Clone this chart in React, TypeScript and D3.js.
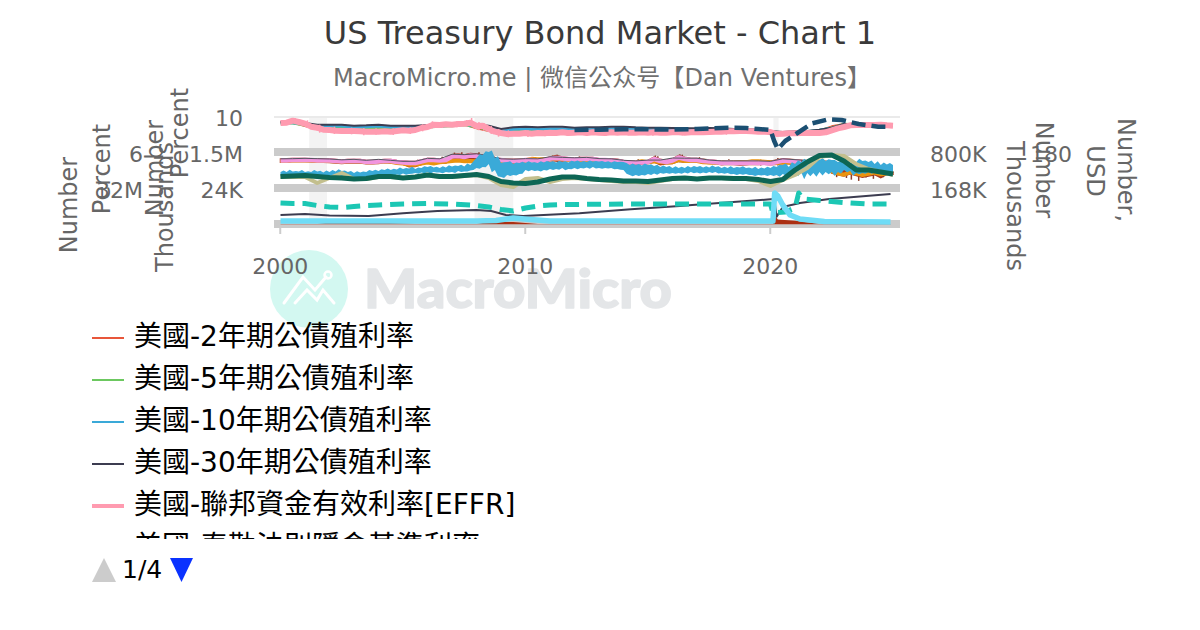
import React, { useRef, useEffect } from "react";
import * as d3 from "d3";

// shared time grids, decimal years
const quarterYears = d3.range(101).map((i) => 2000 + i / 4);
const halfYears = d3.range(51).map((i) => 2000 + i / 2);
const eighthYears = d3.range(201).map((i) => 2000 + i / 8);

// top panel, percent
const effr = [
  8.5, 8.6, 9.2, 8.8, 8.3, 7.4, 7.1, 6.5, 6.4, 6.2, 6.1, 6.1, 6.1, 6.0, 5.9, 5.9, 5.9, 6.0, 5.9, 6.1,
  6.3, 6.2, 6.4, 7.0, 7.3, 8.0, 7.9, 8.1, 8.0, 8.2, 8.3, 8.6, 7.6, 7.7, 6.7, 5.9, 5.5, 5.2, 5.3, 5.3,
  5.5, 5.3, 5.5, 5.4, 5.6, 5.5, 5.7, 5.5, 5.6, 5.7, 5.5, 5.7, 5.6, 5.5, 5.7, 5.6, 5.7, 5.6, 5.6, 5.7,
  5.6, 5.7, 5.6, 5.6, 5.7, 5.7, 5.6, 5.7, 5.8, 5.7, 5.8, 5.9, 5.9, 6.0, 6.0, 6.1, 6.1, 6.0, 5.9, 5.9,
  5.8, 5.2, 5.3, 5.4, 5.4, 5.5, 5.5, 5.5, 5.5, 5.7, 6.3, 6.9, 7.3, 7.8, 7.9, 7.9, 7.9, 7.9, 8.0, 7.8, 7.7,
];
const effrSpikeYears = [
  2000.4, 2000.6, 2001.1, 2001.6, 2002.2, 2002.9, 2003.4, 2003.9, 2004.6, 2005.3, 2005.8, 2006.2, 2006.6, 2007.2, 2007.6, 2007.8,
  2008.1, 2008.3, 2008.6, 2008.9, 2009.3, 2010.1, 2010.8, 2011.7, 2012.5, 2013.3, 2014.2, 2015.2, 2016.4, 2017.3, 2018.2,
];
const effrSpikeHigh = [
  9.6, 10, 9.3, 8.0, 7.4, 7.1, 7.0, 6.9, 6.9, 7.2, 8.1, 9.0, 8.8, 9.0, 9.4, 10,
  8.8, 8.5, 7.6, 6.7, 6.3, 6.3, 6.4, 6.3, 6.4, 6.4, 6.5, 6.4, 6.4, 6.4, 6.8,
];
const effrSpikeLow = [
  8.2, 8.2, 7.4, 5.6, 5.2, 5.1, 4.8, 5.0, 4.9, 5.2, 6.0, 6.9, 7.0, 7.2, 7.4, 7.6,
  6.3, 6.2, 5.2, 4.4, 4.2, 4.3, 4.5, 4.6, 4.6, 4.7, 4.8, 4.7, 4.8, 4.9, 5.0,
];
const us30y = [
  8.8, 8.8, 8.5, 8.0, 8.0, 8.0, 7.7, 7.8, 8.0, 7.7, 7.7, 7.7, 7.9, 8.0, 8.0, 8.3, 8.0, 7.7, 6.7, 7.2, 7.4, 7.2, 7.4, 7.4, 7.1,
  7.2, 7.2, 7.4, 7.4, 7.2, 7.1, 7.1, 7.0, 6.9, 6.9, 7.0, 6.9, 6.7, 6.7, 6.5, 6.1, 5.8, 6.0, 6.1, 6.5, 7.1, 8.2, 8.2, 8.0, 8.0, 7.9,
];
const us10y = [
  8.6, 8.6, 8.2, 7.5, 7.6, 7.6, 7.3, 7.4, 7.6, 7.3, 7.3, 7.2, 7.5, 7.6, 7.8, 8.1, 7.7, 7.0, 6.0, 6.6, 6.8, 6.6, 6.8, 6.8, 6.5,
  6.5, 6.6, 6.8, 6.8, 6.6, 6.5, 6.5, 6.5, 6.4, 6.5, 6.6, 6.5, 6.3, 6.3, 6.1, 5.6, 5.6, 5.7, 5.9, 6.3, 6.9, 8.0, 8.0, 7.9, 7.9, 7.8,
];
const us5y = [
  8.5, 8.5, 7.9, 7.2, 7.1, 7.0, 6.9, 7.1, 7.2, 7.0, 7.0, 7.0, 7.3, 7.5, 7.7, 8.0, 7.4, 6.4, 5.8, 6.4, 6.4, 6.4, 6.4, 6.4, 6.1,
  6.0, 6.1, 6.3, 6.5, 6.4, 6.3, 6.2, 6.2, 6.2, 6.3, 6.5, 6.4, 6.2, 6.2, 6.0, 5.5, 5.5, 5.6, 5.8, 6.3, 7.0, 8.1, 8.0, 7.8, 7.8, 7.7,
];
const us2y = [
  8.6, 8.6, 7.6, 6.6, 6.4, 6.3, 6.2, 6.4, 6.6, 6.5, 6.6, 6.8, 7.3, 7.7, 7.9, 8.0, 6.9, 6.1, 5.7, 5.8, 5.8, 5.7, 5.7, 5.7, 5.6,
  5.7, 5.7, 5.8, 6.0, 6.1, 6.2, 6.1, 6.1, 6.3, 6.4, 6.5, 6.5, 6.2, 6.1, 5.9, 5.3, 5.2, 5.3, 5.4, 6.2, 7.5, 8.2, 8.1, 8.0, 7.9, 7.7,
];
const taylorYears = [
  2012, 2013, 2014, 2015, 2016, 2017, 2018, 2018.5, 2019, 2019.5, 2020, 2020.15, 2020.3, 2020.6, 2021.1, 2021.7, 2022.35, 2022.9, 2023.6, 2024.4, 2024.8,
];
const taylorRule = [6.4, 6.5, 6.6, 6.6, 6.5, 6.7, 7.0, 7.1, 7.0, 6.7, 6.4, 3.1, 0.7, 3.1, 5.5, 8.4, 9.6, 9.4, 8.2, 7.4, 7.4];

// middle panel, thousands
const volHigh = [
  696, 700, 708, 708, 708, 700, 700, 700, 696, 684, 672, 684, 684, 684, 660, 660, 672, 684, 684, 660,
  648, 636, 636, 672, 708, 708, 696, 708, 800, 816, 790, 830, 816, 790, 770, 730, 700, 690, 690, 690,
  700, 710, 690, 700, 740, 780, 745, 725, 715, 730, 735, 735, 705, 700, 700, 690, 660, 650, 650, 650,
  660, 740, 690, 660, 700, 780, 740, 710, 710, 690, 670, 660, 640, 650, 640, 650, 640, 650, 640, 640,
  640, 670, 700, 690, 680, 665, 650, 660, 650, 640, 620, 540, 520, 480, 450, 430, 400, 420, 410, 400, 380,
];
const volLow = [
  620, 620, 640, 636, 636, 628, 620, 620, 610, 600, 590, 600, 600, 600, 580, 585, 590, 610, 600, 590,
  570, 510, 515, 560, 630, 590, 600, 600, 690, 680, 660, 650, 620, 610, 620, 620, 620, 610, 600, 620,
  630, 640, 600, 610, 660, 650, 650, 660, 640, 660, 650, 650, 630, 640, 620, 600, 570, 560, 560, 575,
  590, 620, 560, 580, 590, 640, 620, 620, 630, 600, 590, 585, 560, 570, 565, 550, 560, 570, 565, 570,
  560, 570, 590, 580, 560, 540, 520, 520, 510, 480, 360, 320, 290, 340, 300, 260, 290, 320, 250, 330, 330,
];
const volSpikeYears = [
  2005.6, 2006.6, 2006.9, 2007.1, 2007.4, 2007.7, 2008.1, 2008.4, 2010.4, 2011.1, 2011.3, 2012.2, 2014.6, 2015.3, 2015.4, 2016.3,
  2016.4, 2017.1, 2018.3, 2019.6, 2020.3, 2021.4, 2021.9, 2022.2, 2022.7, 2023.1, 2023.3, 2023.6, 2023.9, 2024.2, 2024.6,
];
const volSpikeHigh = [
  680, 750, 760, 850, 860, 830, 860, 800, 740, 780, 800, 760, 690, 780, 760, 810,
  800, 740, 690, 680, 720, 690, 670, 620, 500, 490, 560, 500, 460, 450, 430,
];
const volSpikeLow = [
  600, 640, 690, 700, 700, 640, 660, 620, 590, 640, 630, 630, 540, 600, 620, 620,
  620, 600, 550, 540, 540, 500, 480, 400, 260, 240, 200, 170, 250, 220, 260,
];
const orangeSeries = [
  650, 650, 660, 660, 660, 660, 650, 650, 650, 640, 630, 640, 640, 640, 620, 620, 630, 640, 630, 600,
  590, 560, 560, 590, 610, 590, 620, 630, 650, 660, 640, 650, 640, 660, 690, 650, 640, 650, 640, 650,
  670, 700, 690, 690, 700, 700, 695, 680, 670, 670, 680, 670, 650, 660, 650, 640, 600, 600, 620, 640,
  620, 640, 620, 610, 620, 670, 650, 650, 650, 620, 610, 610, 610, 620, 610, 620, 620, 640, 640, 630,
  620, 600, 610, 610, 600, 570, 560, 560, 540, 500, 400, 350, 320, 380, 350, 310, 340, 370, 330, 350, 350,
];
const magentaSeries = [
  660, 660, 672, 672, 672, 672, 660, 660, 660, 648, 636, 648, 648, 648, 624, 624, 636, 648, 648, 624,
  612, 600, 600, 636, 672, 672, 660, 672, 756, 768, 744, 780, 768, 744, 720, 672, 672, 648, 648, 648,
  672, 672, 648, 660, 708, 720, 708, 696, 684, 696, 696, 696, 672, 672, 660, 648, 624, 612, 612, 612,
  624, 696, 648, 624, 660, 732, 696, 672, 672, 648, 636, 624, 600, 612, 600, 600, 600, 612, 600, 600,
  588, 624, 660, 648, 636, 624,
];
const darkSeries = [
  700, 704, 712, 704, 696, 676, 688, 664, 688, 664, 640, 640, 712, 700, 810, 800, 820, 770, 700, 690, 705, 700, 750, 735, 725,
  735, 705, 700, 665, 650, 670, 670, 720, 715, 715, 670, 650, 650, 650, 650, 640, 700, 680, 655, 640, 620, 520, 450, 420, 410, 390,
];
const blueHigh = [
  384, 384, 396, 396, 384, 384, 396, 372, 384, 396, 408, 384, 360, 372, 384, 408, 408, 432, 432, 444,
  456, 468, 456, 480, 504, 492, 480, 492, 516, 528, 516, 552, 720, 792, 864, 720, 600, 624, 576, 600,
  600, 612, 600, 612, 624, 612, 624, 612, 636, 624, 624, 636, 636, 624, 612, 624, 624, 552, 552, 540,
  552, 528, 504, 504, 480, 480, 480, 492, 504, 492, 492, 504, 480, 480, 480, 492, 480, 468, 456, 468,
  480, 504, 552, 504, 576, 624, 648, 660, 672, 648, 672, 624, 600, 600, 624, 648, 624, 576, 552, 564, 552,
];
const blueLow = [
  288, 276, 288, 288, 288, 288, 288, 264, 264, 276, 276, 264, 240, 240, 264, 288, 300, 312, 324, 324,
  348, 336, 360, 372, 384, 384, 372, 384, 384, 408, 396, 420, 480, 504, 576, 432, 264, 312, 312, 336,
  432, 432, 420, 432, 456, 456, 480, 456, 480, 480, 492, 504, 480, 480, 480, 456, 432, 312, 312, 312,
  336, 348, 360, 360, 360, 360, 372, 384, 372, 372, 384, 384, 360, 360, 336, 336, 336, 312, 312, 312,
  312, 312, 336, 336, 384, 384, 360, 360, 384, 384, 384, 384, 432, 408, 360, 360, 384, 384, 384, 396, 384,
];
// readings between the quarter points, the edges of the daily noise
const blueMidHigh = [
  420, 440, 410, 430, 400, 430, 415, 420, 430, 450, 420, 410, 400, 395, 430, 440, 450, 470, 460, 490,
  480, 510, 490, 520, 530, 510, 520, 545, 540, 560, 590, 640, 810, 880, 900, 760, 620, 640, 610, 630,
  640, 620, 640, 650, 640, 650, 640, 655, 660, 650, 660, 650, 650, 640, 640, 630, 600, 590, 575, 590,
  570, 560, 540, 530, 520, 510, 530, 530, 530, 525, 540, 520, 510, 520, 505, 520, 495, 510, 490, 510,
  530, 560, 590, 620, 660, 700, 690, 710, 720, 690, 670, 650, 650, 630, 700, 660, 660, 640, 610, 600,
];
const blueMidLow = [
  260, 270, 255, 270, 265, 270, 250, 240, 250, 250, 240, 240, 220, 240, 270, 285, 280, 300, 300, 310,
  320, 345, 340, 355, 350, 375, 355, 370, 360, 385, 395, 430, 460, 500, 380, 280, 240, 290, 300, 340,
  400, 410, 395, 420, 430, 440, 425, 450, 450, 470, 460, 470, 460, 470, 450, 440, 340, 280, 290, 300,
  310, 320, 340, 340, 340, 345, 350, 355, 350, 355, 360, 350, 340, 330, 315, 320, 310, 290, 300, 290,
  290, 270, 300, 330, 280, 210, 280, 270, 300, 330, 290, 350, 380, 300, 330, 340, 340, 350, 330, 350,
];
const khakiSeries = [
  264, 264, 264, 120, 240, 360, 216, 216, 264, 264, 240, 264, 312, 264, 264, 288, 312, 240, 72, 24, 216, 240, 144, 216, 240,
  216, 192, 168, 144, 144, 120, 168, 216, 240, 216, 240, 240, 216, 216, 168, 48, 192, 312, 480, 744, 792, 768, 576, 456, 384, 312,
];
const greenSeries = [
  276, 288, 300, 276, 252, 240, 216, 228, 276, 276, 240, 264, 312, 276, 276, 300, 324, 276, 156, 120, 108, 144, 216, 264, 264,
  228, 204, 192, 168, 168, 156, 192, 228, 240, 216, 240, 240, 228, 228, 204, 156, 204, 432, 624, 780, 792, 648, 432, 432, 384, 336,
];

// bottom panel, thousands
const tealYears = [
  2000, 2000.5, 2001, 2001.5, 2002, 2002.5, 2003, 2003.5, 2004, 2005, 2006, 2007, 2007.75, 2008.5, 2009, 2009.5, 2010, 2010.5, 2011, 2011.5,
  2012, 2014, 2016, 2018, 2020, 2020.1, 2020.6, 2021, 2021.15, 2021.35, 2022, 2023, 2024, 2024.9,
];
const tealSeries = [
  105, 102.5, 102.5, 92.5, 85, 82.5, 87.5, 92.5, 95, 100, 102.5, 100, 95, 85, 72.5, 65, 80, 90, 95, 97.5,
  97.5, 100, 100, 100, 100, 55, 60, 80, 155, 125, 117.5, 107.5, 100, 100,
];
const slateYears = [
  2000, 2001, 2002, 2003.6, 2005, 2006.4, 2008, 2008.6, 2009.2, 2009.9, 2012.2, 2014.3, 2016.3, 2016.8, 2020, 2020.15, 2020.25, 2020.5, 2021.2, 2022.4, 2024.9,
];
const slateSeries = [45, 50, 42.5, 40, 53.5, 65, 70, 65, 45, 40, 53.5, 73.5, 90, 95, 123.5, 125, 36.5, 85, 105, 125, 150];
const cyanYears = [2000, 2008, 2008.8, 2009.5, 2010.2, 2011, 2020.1, 2020.17, 2020.3, 2020.5, 2020.8, 2021.2, 2022.2, 2024.9];
const cyanSeries = [15, 15, 17.5, 30, 22.5, 15, 15, 155, 140, 95, 45, 25, 12.5, 10];
const brickYears = [2000, 2001.5, 2002, 2004, 2005.5, 2008, 2008.5, 2009.5, 2010.5, 2020.1, 2020.17, 2020.3, 2021, 2021.7, 2022, 2024.9];
const brickSeries = [0, 0, 8, 8, 0, 0, 10, 10, 0, 0, 45, 22, 16, 5, 0, 0];

const recessions = [
  [2001.17, 2001.9],
  [2007.92, 2009.5],
  [2020.12, 2020.33],
];
const xTicks = [2000, 2010, 2020];

const legendNames = [
  "美國-2年期公債殖利率",
  "美國-5年期公債殖利率",
  "美國-10年期公債殖利率",
  "美國-30年期公債殖利率",
  "美國-聯邦資金有效利率[EFFR]",
  "美國-泰勒法則隱含基準利率",
];
const legendColors = ["#e8563a", "#6cc860", "#3aa9d8", "#3c3c50", "#ff9bb0", "#1b4f72"];

const leftTitles = [
  { text: "Number", x: 69, y: 205 },
  { text: "Percent", x: 102, y: 169 },
  { text: "Number", x: 155, y: 168 },
  { text: "Thousands", x: 165, y: 207 },
  { text: "Percent", x: 180, y: 133 },
];
const rightTitles = [
  { text: "Thousands", x: 1015, y: 206 },
  { text: "Number", x: 1044, y: 170 },
  { text: "USD", x: 1095, y: 171 },
  { text: "Number,", x: 1126, y: 170 },
];

const FONT = "'DejaVu Sans', 'Noto Sans CJK TC', sans-serif";

// quarter readings and the mid-quarter readings, in time order
const interleave = (onGrid: number[], between: number[]) =>
  d3.merge<number>(onGrid.map((v, i) => (i < between.length ? [v, between[i]] : [v])));

const App = () => {
  const svgRef = useRef<SVGSVGElement>(null);

  useEffect(() => {
    const svg = d3.select(svgRef.current);
    svg.selectAll("*").remove();
    svg.style("font-family", FONT);

    const x = d3.scaleLinear().domain([2000, 2020]).range([280.5, 770.5]);
    const xLeft = 274;
    const xRight = 900;

    const y1 = d3.scaleLinear().domain([0, 10]).range([151.33, 118]);
    const y2 = d3.scaleLinear().domain([0, 800]).range([188, 154.67]);
    const y3 = d3.scaleLinear().domain([0, 170]).range([224, 190]);

    // watermark sits under everything
    const mark = svg.append("g");
    mark.append("circle").attr("cx", 309).attr("cy", 289).attr("r", 39).attr("fill", "#d3f8f1");
    mark
      .append("text")
      .attr("x", 364)
      .attr("y", 308)
      .attr("font-family", "Lato, sans-serif")
      .attr("font-weight", 900)
      .attr("font-size", 54)
      .attr("textLength", 308)
      .attr("lengthAdjust", "spacingAndGlyphs")
      .attr("fill", "#e4e6e8")
      .attr("stroke", "#e4e6e8")
      .attr("stroke-width", 1.5)
      .attr("stroke-linejoin", "round")
      .text("MacroMicro");
    [
      "M284,303L303,277L315,290L326,277",
      "M295,303L307,290L317,300L323,290L334,303",
    ].forEach((p) =>
      mark
        .append("path")
        .attr("d", p)
        .attr("fill", "none")
        .attr("stroke", "#fff")
        .attr("stroke-width", 3)
        .attr("stroke-linecap", "round")
    );
    mark.append("circle").attr("cx", 328).attr("cy", 275).attr("r", 3.5).attr("fill", "none").attr("stroke", "#fff").attr("stroke-width", 2.5);

    // recession shading
    svg
      .append("g")
      .selectAll("rect")
      .data(recessions)
      .enter()
      .append("rect")
      .attr("x", (d) => x(d[0]))
      .attr("width", (d) => x(d[1]) - x(d[0]))
      .attr("y", 118)
      .attr("height", 106)
      .attr("fill", "#f3f3f3");

    // panel grid and zero lines
    svg.append("line").attr("x1", xLeft).attr("x2", xRight).attr("y1", 117).attr("y2", 117).attr("stroke", "#eaeaea").attr("stroke-width", 2);
    [152, 188, 224].forEach((yy) =>
      svg.append("line").attr("x1", xLeft).attr("x2", xRight).attr("y1", yy).attr("y2", yy).attr("stroke", "#cbcbcb").attr("stroke-width", 8)
    );

    const drawLine = (years: number[], values: number[], scale: any, color: string, width: number, dash?: string) => {
      const line = d3
        .line<number>()
        .x((_, i) => x(years[i]))
        .y((d) => scale(d));
      svg
        .append("path")
        .attr("d", line(values))
        .attr("fill", "none")
        .attr("stroke", color)
        .attr("stroke-width", width)
        .attr("stroke-linejoin", "round")
        .attr("stroke-dasharray", dash ?? null);
    };
    const drawBand = (years: number[], low: number[], high: number[], scale: any, color: string, edge = 0) => {
      const area = d3
        .area<number>()
        .x((_, i) => x(years[i]))
        .y0((_, i) => scale(low[i]))
        .y1((_, i) => scale(high[i]));
      svg.append("path").attr("d", area(low)).attr("fill", color).attr("stroke", color).attr("stroke-width", edge);
    };
    // daily noise reads as short vertical ticks at this size
    const drawSpikes = (years: number[], low: number[], high: number[], scale: any, color: string, width: number) => {
      svg
        .append("g")
        .selectAll("line")
        .data(years)
        .enter()
        .append("line")
        .attr("x1", (d) => x(d))
        .attr("x2", (d) => x(d))
        .attr("y1", (_, i) => scale(low[i]))
        .attr("y2", (_, i) => scale(high[i]))
        .attr("stroke", color)
        .attr("stroke-width", width);
    };

    // top panel
    drawLine(halfYears, us2y, y1, "#e8563a", 2);
    drawLine(halfYears, us5y, y1, "#6cc860", 3);
    drawLine(halfYears, us10y, y1, "#3aa9d8", 3);
    drawLine(halfYears, us30y, y1, "#3c3c50", 2);
    drawSpikes(effrSpikeYears, effrSpikeLow, effrSpikeHigh, y1, "#ff9bb0", 1.5);
    drawLine(quarterYears, effr, y1, "#ff9bb0", 6);
    drawLine(taylorYears, taylorRule, y1, "#1b4f72", 4.5, "14 6");

    // middle panel
    drawBand(quarterYears, volLow, volHigh, y2, "#ab3a1c", 1.5);
    drawSpikes(volSpikeYears, volSpikeLow, volSpikeHigh, y2, "#8d3f2a", 1.5);
    drawLine(quarterYears, orangeSeries, y2, "#ea930e", 4);
    drawLine(quarterYears, magentaSeries, y2, "#f195de", 4.5);
    drawLine(halfYears, darkSeries, y2, "#555560", 1);
    drawBand(eighthYears, interleave(blueLow, blueMidLow), interleave(blueHigh, blueMidHigh), y2, "#3aaad8");
    drawLine(halfYears, khakiSeries, y2, "#c3bf8d", 4);
    drawLine(halfYears, greenSeries, y2, "#0d6655", 5);

    // bottom panel
    const brickArea = d3
      .area<number>()
      .x((_, i) => x(brickYears[i]))
      .y0(y3(-1))
      .y1((d) => y3(d));
    svg.append("path").attr("d", brickArea(brickSeries)).attr("fill", "#ab2f12");
    drawLine(slateYears, slateSeries, y3, "#3c3c50", 2);
    drawLine(tealYears, tealSeries, y3, "#1cc7b4", 5, "14 8");
    drawLine(cyanYears, cyanSeries, y3, "#6fdcf6", 5.5);

    // x axis
    const xAxis = d3
      .axisBottom(x)
      .tickValues(xTicks)
      .tickFormat(d3.format("d") as any)
      .tickSize(6)
      .tickPadding(24);
    const gx = svg.append("g").attr("transform", "translate(-0.75,228)").call(xAxis);
    gx.select(".domain").remove();
    gx.selectAll(".tick line").attr("stroke", "#ccc").attr("stroke-width", 2);
    gx.selectAll(".tick text").attr("font-size", 22).attr("font-family", FONT).attr("fill", "#666");

    // y axes, one d3 axis per label column
    const addAxis = (axis: any, at: number) => {
      const g = svg.append("g").attr("transform", `translate(${at},0)`).call(axis.tickSize(0).tickPadding(0));
      g.select(".domain").remove();
      g.selectAll(".tick text").attr("font-size", 22).attr("font-family", FONT).attr("fill", "#666");
    };
    addAxis(d3.axisLeft(y1).tickValues([10]), 243);
    addAxis(d3.axisLeft(y2).tickValues([800]).tickFormat(() => "1.5M"), 243);
    addAxis(d3.axisLeft(y3).tickValues([170]).tickFormat(() => "24K"), 243);
    addAxis(d3.axisLeft(y2).tickValues([800]).tickFormat(() => "6"), 143);
    addAxis(d3.axisLeft(y3).tickValues([170]).tickFormat(() => "32M"), 143);
    addAxis(d3.axisRight(y2).tickValues([800]).tickFormat(() => "800K"), 930);
    addAxis(d3.axisRight(y3).tickValues([170]).tickFormat(() => "168K"), 930);
    addAxis(d3.axisRight(y2).tickValues([800]).tickFormat(() => "180"), 1030);

    // rotated axis titles
    const addTitles = (items: typeof leftTitles, angle: number) =>
      svg
        .append("g")
        .selectAll("text")
        .data(items)
        .enter()
        .append("text")
        .attr("transform", (d) => `translate(${d.x},${d.y}) rotate(${angle})`)
        .attr("text-anchor", "middle")
        .attr("dominant-baseline", "central")
        .attr("font-size", 24)
        .attr("fill", "#666")
        .text((d) => d.text);
    addTitles(leftTitles, -90);
    addTitles(rightTitles, 90);

    // titles
    svg.append("text").attr("x", 600).attr("y", 44).attr("text-anchor", "middle").attr("font-size", 32).attr("fill", "#3a3a3a").text("US Treasury Bond Market - Chart 1");
    svg.append("text").attr("x", 333).attr("y", 86).attr("font-size", 24).attr("textLength", 538).attr("fill", "#707070").text("MacroMicro.me | 微信公众号【Dan Ventures】");

    // legend, clipped at the scroll window like the original
    svg.append("defs").append("clipPath").attr("id", "legend-clip").append("rect").attr("x", 80).attr("y", 315).attr("width", 600).attr("height", 224);
    const legendY = d3.scalePoint<number>().domain(d3.range(6)).range([336, 546]);
    const legend = svg.append("g").attr("clip-path", "url(#legend-clip)");
    legendNames.forEach((name, i) => {
      const yy = legendY(i) as number;
      legend
        .append("line")
        .attr("x1", 92)
        .attr("x2", 124)
        .attr("y1", yy + 2)
        .attr("y2", yy + 2)
        .attr("stroke", legendColors[i])
        .attr("stroke-width", i === 4 ? 4 : 2);
      legend.append("text").attr("x", 134).attr("y", yy + 10).attr("font-size", 28).attr("fill", "#000").text(name);
    });

    // pager
    svg.append("path").attr("d", "M92,582L104,558L116,582Z").attr("fill", "#ccc");
    svg.append("text").attr("x", 122).attr("y", 578).attr("font-size", 25).attr("fill", "#000").text("1/4");
    svg.append("path").attr("d", "M170,558L193,558L181.5,582Z").attr("fill", "#0a32ff");
  }, []);

  return <svg ref={svgRef} width={1200} height={630} style={{ position: "absolute", left: 0, top: 0 }}></svg>;
};

export default App;
